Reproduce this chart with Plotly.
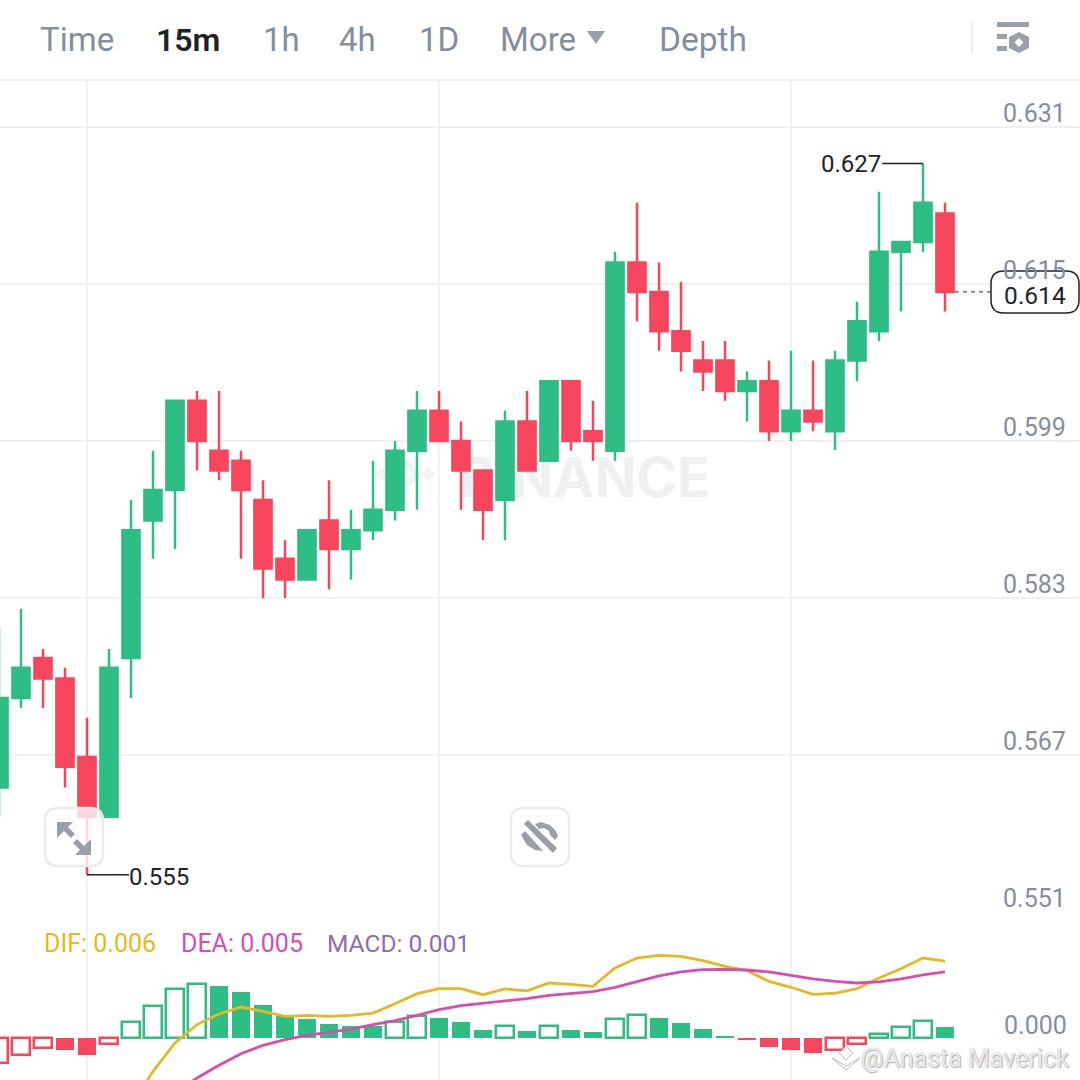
import plotly.graph_objects as go

# candles, 15m, index 0 is the one with the low
candle_idx = list(range(-4, 40))
opens = [0.5637, 0.5728, 0.5769, 0.5748, 0.5668, 0.5607, 0.5769, 0.5909, 0.5940, 0.6031, 0.5980, 0.5970, 0.5930, 0.5870,
         0.5849, 0.5909, 0.5880, 0.5899, 0.5920, 0.5980, 0.6021, 0.5990, 0.5960, 0.5930, 0.6010, 0.5970, 0.6051, 0.6000,
         0.5980, 0.6172, 0.6142, 0.6102, 0.6072, 0.6072, 0.6041, 0.6051, 0.6000, 0.6021, 0.6000, 0.6072, 0.6102, 0.6183,
         0.6193, 0.6222]
closes = [0.5728, 0.5759, 0.5748, 0.5658, 0.5607, 0.5759, 0.5899, 0.5940, 0.6031, 0.5990, 0.5960, 0.5940, 0.5860, 0.5849,
          0.5899, 0.5880, 0.5899, 0.5920, 0.5980, 0.6021, 0.5990, 0.5960, 0.5920, 0.6010, 0.5960, 0.6051, 0.5990, 0.5990,
          0.6172, 0.6142, 0.6102, 0.6082, 0.6061, 0.6041, 0.6051, 0.6000, 0.6021, 0.6010, 0.6072, 0.6112, 0.6183, 0.6193,
          0.6233, 0.6142]
highs = [0.5799, 0.5819, 0.5778, 0.5759, 0.5708, 0.5778, 0.5930, 0.5980, 0.6031, 0.6041, 0.6041, 0.5980, 0.5950, 0.5889,
         0.5899, 0.5950, 0.5920, 0.5970, 0.5990, 0.6041, 0.6041, 0.6010, 0.5960, 0.6021, 0.6041, 0.6051, 0.6051, 0.6031,
         0.6183, 0.6233, 0.6172, 0.6152, 0.6092, 0.6092, 0.6061, 0.6072, 0.6082, 0.6072, 0.6082, 0.6132, 0.6244, 0.6193,
         0.6273, 0.6233]
lows = [0.5607, 0.5718, 0.5718, 0.5637, 0.5548, 0.5607, 0.5728, 0.5870, 0.5880, 0.5960, 0.5950, 0.5870, 0.5830, 0.5830,
        0.5849, 0.5839, 0.5849, 0.5889, 0.5909, 0.5920, 0.5990, 0.5920, 0.5889, 0.5889, 0.5960, 0.5970, 0.5980, 0.5970,
        0.5970, 0.6112, 0.6082, 0.6061, 0.6041, 0.6031, 0.6010, 0.5990, 0.5990, 0.6000, 0.5981, 0.6051, 0.6092, 0.6122,
        0.6183, 0.6122]

price_ticks = [0.631, 0.615, 0.599, 0.583, 0.567, 0.551]
price_labels = ['0.631', '0.615', '0.599', '0.583', '0.567', '0.551']

macd = [-0.00192, -0.00128, -0.00077, -0.0009, -0.00128, -0.00044, 0.0012, 0.00244, 0.00377, 0.00413, 0.00397, 0.00354,
        0.00256, 0.00167, 0.00149, 0.0011, 0.0009, 0.0009, 0.0012, 0.00167, 0.00156, 0.00123, 0.00064, 0.0009, 0.00056,
        0.00095, 0.00064, 0.00044, 0.00146, 0.00179, 0.00156, 0.00118, 0.00069, 0.00018, -0.00015, -0.00072, -0.00095,
        -0.00115, -0.00095, -0.00049, 0.00033, 0.00082, 0.00133, 0.00082]
macd_hollow = [1, 1, 1, 0, 0, 1, 1, 1, 1, 1, 0, 0, 0, 0, 0, 0, 0, 0, 1, 1, 0, 0, 0, 1, 0, 1, 0, 0, 1, 1, 0, 0, 0, 0, 0, 0,
               0, 0, 1, 1, 1, 1, 1, 0]

dif_idx = list(range(2, 40))
dif = [-0.00526, -0.00256, -0.00038, 0.00103, 0.00185, 0.00238, 0.00205, 0.00167, 0.00174, 0.00167, 0.00174, 0.00192,
       0.00264, 0.00341, 0.00379, 0.00379, 0.00333, 0.00377, 0.00362, 0.00423, 0.00413, 0.00397, 0.00538, 0.00615,
       0.00636, 0.00628, 0.00595, 0.00551, 0.00518, 0.00436, 0.0039, 0.00336, 0.00344, 0.00379, 0.00462, 0.00533,
       0.00615, 0.00592]
dea_idx = list(range(4, 40))
dea = [-0.00423, -0.00308, -0.0021, -0.00121, -0.00056, -0.00013, 0.00021, 0.00044, 0.00069, 0.00103, 0.00133, 0.00174,
       0.00218, 0.00249, 0.00267, 0.00287, 0.00303, 0.00328, 0.00341, 0.00356, 0.0039, 0.00436, 0.00477, 0.00508,
       0.00526, 0.00528, 0.00523, 0.00508, 0.00479, 0.00454, 0.00436, 0.00423, 0.00431, 0.00454, 0.00485, 0.00508]

GREEN = '#2ebd85'
RED = '#f6465d'
GRID = '#f0f1f4'
GREY = '#848e9c'
DARK = '#1e2329'
ICON = '#9aa0aa'
FONT = 'Roboto'


def px(x):
    return x / 1080


def py(y):
    return 1 - y / 1080


def poly(points):
    return 'M ' + ' L '.join(f'{px(x):.5f},{py(y):.5f}' for x, y in points) + ' Z'


def rrect(x0, y0, x1, y1, r):
    # rounded box, corners as short cut-offs with quadratic curves
    return (f'M {px(x0 + r)},{py(y0)} L {px(x1 - r)},{py(y0)} Q {px(x1)},{py(y0)} {px(x1)},{py(y0 + r)} '
            f'L {px(x1)},{py(y1 - r)} Q {px(x1)},{py(y1)} {px(x1 - r)},{py(y1)} '
            f'L {px(x0 + r)},{py(y1)} Q {px(x0)},{py(y1)} {px(x0)},{py(y1 - r)} '
            f'L {px(x0)},{py(y0 + r)} Q {px(x0)},{py(y0)} {px(x0 + r)},{py(y0)} Z')


def diamond(cx, cy, r):
    return poly([(cx, cy - r), (cx + r, cy), (cx, cy + r), (cx - r, cy)])


def solid(path, color=ICON, layer='above'):
    return dict(type='path', path=path, xref='paper', yref='paper', fillcolor=color, line_width=0, layer=layer)


fig = go.Figure()

fig.add_trace(go.Candlestick(
    x=candle_idx, open=opens, high=highs, low=lows, close=closes,
    increasing=dict(line=dict(color=GREEN, width=2.5), fillcolor=GREEN),
    decreasing=dict(line=dict(color=RED, width=2.5), fillcolor=RED),
    whiskerwidth=0, hoverinfo='skip', showlegend=False,
))

bar_fill = ['white' if h else (GREEN if v >= 0 else RED) for v, h in zip(macd, macd_hollow)]
bar_line = [GREEN if v >= 0 else RED for v in macd]
fig.add_trace(go.Bar(
    x=candle_idx, y=macd, xaxis='x2', yaxis='y2', width=0.84,
    marker=dict(color=bar_fill, line=dict(color=bar_line, width=[2.5 if h else 0 for h in macd_hollow])),
    hoverinfo='skip', showlegend=False,
))
fig.add_trace(go.Scatter(x=dif_idx, y=dif, xaxis='x2', yaxis='y2', mode='lines',
                         line=dict(color='#e6b825', width=2.8), hoverinfo='skip', showlegend=False))
fig.add_trace(go.Scatter(x=dea_idx, y=dea, xaxis='x2', yaxis='y2', mode='lines',
                         line=dict(color='#d64fae', width=2.8), hoverinfo='skip', showlegend=False))

shapes = [
    # header
    dict(type='line', xref='paper', yref='paper', x0=0, x1=1, y0=py(80), y1=py(80), line=dict(color='#f2f2f3', width=2)),
    dict(type='line', xref='paper', yref='paper', x0=px(972), x1=px(972), y0=py(22), y1=py(54),
         line=dict(color='#eceef0', width=2)),
    solid(poly([(587, 31), (605, 31), (596, 44)])),
    solid(poly([(997, 22), (1029, 22), (1029, 27), (997, 27)])),
    solid(poly([(997, 34), (1007, 34), (1007, 39), (997, 39)])),
    solid(poly([(997, 46), (1007, 46), (1007, 51), (997, 51)])),
    solid(poly([(1019, 32), (1029, 37), (1029, 48), (1019, 53), (1009, 48), (1009, 37)])),
    solid(diamond(1019, 42.5, 4.5), 'white'),
    # BINANCE mark behind the candles
    dict(type='rect', xref='paper', yref='paper', x0=px(442), x1=px(728), y0=py(497), y1=py(452),
         line_width=0, fillcolor='rgba(0,0,0,0)', layer='below',
         label=dict(text='BINANCE', textposition='middle center',
                    font=dict(family='Inter', size=55, color='#eef0f1', weight=700))),
    solid(diamond(428, 474, 7), '#f1f3f4', 'below'),
    solid(diamond(405, 474, 17), '#f1f3f4', 'below'),
    solid(diamond(405, 474, 7), 'white', 'below'),
    solid(diamond(382, 474, 7), '#f1f3f4', 'below'),
    # high / low leaders and last price
    dict(type='line', xref='x', yref='y', x0=candle_idx[highs.index(max(highs))], x1=36.14,
         y0=max(highs), y1=max(highs), line=dict(color=DARK, width=1.5)),
    dict(type='line', xref='x', yref='y', x0=candle_idx[lows.index(min(lows))], x1=1.91,
         y0=min(lows), y1=min(lows), line=dict(color=DARK, width=1.5)),
    dict(type='line', xref='x', yref='y', x0=39.45, x1=41.1, y0=closes[-1], y1=closes[-1],
         line=dict(color=DARK, width=1, dash='4px,4px')),
    dict(type='path', path=rrect(991, 271, 1079, 313, 13), xref='paper', yref='paper', fillcolor='white',
         line=dict(color=DARK, width=1.5)),
    # expand button
    dict(type='path', path=rrect(45, 808, 103, 866, 13), xref='paper', yref='paper',
         fillcolor='rgba(255,255,255,0.78)', line=dict(color='#eaebed', width=2.5)),
    solid(poly([(57, 822), (73, 822), (68, 827), (75, 834), (71, 838), (64, 831), (57, 838)])),
    solid(poly([(91, 855), (75, 855), (80, 850), (73, 843), (77, 839), (84, 846), (91, 839)])),
    # hide button
    dict(type='path', path=rrect(511, 808, 569, 866, 13), xref='paper', yref='paper',
         fillcolor='rgba(255,255,255,0.78)', line=dict(color='#eaebed', width=2.5)),
    solid(poly([(524, 824), (528, 820), (557, 848), (553, 853)])),
    solid(poly([(521, 835), (525, 831), (543, 851), (535, 850), (527, 845)])),
    solid(poly([(535, 824), (541, 822), (550, 825), (556, 831), (558, 836), (555, 840), (550, 835), (549, 831),
                (544, 828), (539, 829)])),
    # watermark diamonds
    dict(type='path', path=poly([(832, 1058), (846, 1070), (860, 1058), (846, 1066)]), xref='paper', yref='paper',
         fillcolor='rgba(255,255,255,0.7)', line=dict(color='#bbbbbb', width=1)),
    dict(type='path', path=diamond(846, 1053, 7), xref='paper', yref='paper',
         fillcolor='rgba(255,255,255,0.7)', line=dict(color='#bbbbbb', width=1)),
]

annotations = []


def text(x, y, label, color=GREY, size=25, anchor='left', **kw):
    # annotations carry a few px of padding, take it back
    x = x - 3 if anchor == 'left' else x + 3
    annotations.append(dict(text=label, x=px(x), y=py(y), xref='paper', yref='paper', showarrow=False, xanchor=anchor,
                            yanchor='middle', font=dict(family=FONT, size=size, color=color), **kw))


for name, x, color, weight, size in [('Time', 41, GREY, 400, 33), ('15m', 157, DARK, 600, 32), ('1h', 264, GREY, 400, 33),
                                     ('4h', 340, GREY, 400, 33), ('1D', 420, GREY, 400, 33), ('More', 501, GREY, 400, 33),
                                     ('Depth', 660, GREY, 400, 33.5)]:
    text(x, 40, name, color, size)
    annotations[-1]['font']['weight'] = weight

for value, label in zip(price_ticks, price_labels):
    annotations.append(dict(text=label, x=1, xref='paper', y=value, yref='y', yshift=14, xshift=-12, showarrow=False,
                            xanchor='right', yanchor='middle', font=dict(family=FONT, size=25, color=GREY)))

# white veil inside the last price box, on top of the 0.615 label
annotations.append(dict(text=f'{closes[-1]:.3f}', x=px(1035), y=py(295), xref='paper', yref='paper', showarrow=False,
                        xanchor='center', yanchor='middle', width=76, height=28, bgcolor='white',
                        font=dict(family=FONT, size=24.5, color=DARK)))

text(880, 164, f'{max(highs):.3f}', DARK, 24, 'right')
text(130, 877, f'{min(lows):.3f}', DARK, 24, 'left')

text(45, 943, f'DIF: {dif[-1]:.3f}', '#e6b825', 25)
text(182, 943, f'DEA: {dea[-1]:.3f}', '#d64fae', 25)
text(328, 943, f'MACD: {macd[-1]:.3f}', '#8e6bb5', 24.5)
text(1066, 1025, '0.000', GREY, 25, 'right')
text(862, 1058, '@Anasta Maverick', 'rgba(255,255,255,0.85)', 25)
annotations[-1]['font']['shadow'] = '0 0 1px #777, 1px 1px 1px #aaa'

x_range = [-87 / 22, (1080 - 87) / 22]
grid_x = [0, 16, 32]

fig.update_layout(
    width=1080, height=1080,
    margin=dict(l=0, r=0, t=0, b=0),
    paper_bgcolor='white', plot_bgcolor='white',
    boxgap=0.22, boxgroupgap=0, bargap=0,
    shapes=shapes, annotations=annotations,
    xaxis=dict(domain=[0, 1], range=x_range, tickvals=grid_x, showticklabels=False, ticks='', showgrid=True,
               gridcolor=GRID, gridwidth=1.5, zeroline=False, rangeslider=dict(visible=False), anchor='y'),
    yaxis=dict(domain=[py(912), py(80)], range=[0.551, 0.6358], tickvals=price_ticks, showticklabels=False, ticks='',
               showgrid=True, gridcolor=GRID, gridwidth=1.5, zeroline=False, anchor='x', showline=False),
    xaxis2=dict(domain=[0, 1], range=x_range, tickvals=grid_x, showticklabels=False, ticks='', showgrid=True,
                gridcolor=GRID, gridwidth=1.5, zeroline=False, anchor='y2'),
    yaxis2=dict(domain=[0, py(912)], range=[-0.00323, 0.00969], showgrid=False, showticklabels=False, ticks='',
                zeroline=False, anchor='x2'),
)

fig.write_html("out.html", config=dict(displayModeBar=False),
               post_script="document.body.style.margin='0';document.body.style.overflow='hidden';")
